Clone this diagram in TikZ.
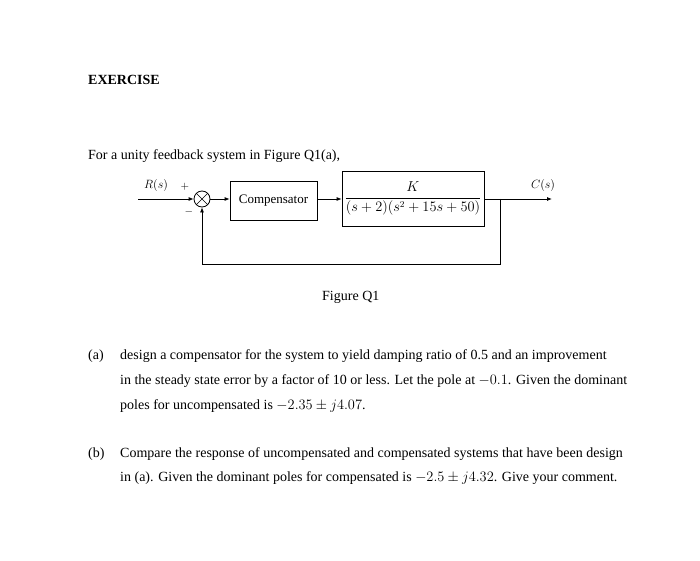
\documentclass[tikz,border=0pt]{standalone}
\usepackage{fontspec}
\setmainfont{Liberation Serif}
\usetikzlibrary{arrows.meta}
\begin{document}
\begin{tikzpicture}[x=1pt,y=-1pt,font=\fontsize{14}{16}\selectfont,
  blk/.style={draw,line width=0.8pt,minimum height=0pt,inner sep=0pt},
  txt/.style={anchor=base west,inner sep=0pt},
  sig/.style={line width=0.8pt,-{Latex[length=5pt,width=4pt]}},
  ln/.style={line width=0.8pt}]
\useasboundingbox (0,0) rectangle (700,561);
\node[txt,font=\fontsize{14}{16}\selectfont\bfseries] (ex) at (88,85) {EXERCISE};
\node[txt] (intro) at (88,160) {For a unity feedback system in Figure Q1(a),};
% diagram
\node[draw,circle,line width=0.8pt,minimum size=16pt,inner sep=0pt] (sum) at (202,199) {};
\draw[line width=0.7pt] (sum.north west)--(sum.south east) (sum.north east)--(sum.south west);
\node[blk,minimum width=87pt,minimum height=39pt] (comp) at (273.5,200.5) {\fontsize{13}{15}\selectfont Compensator};
\node[blk,minimum width=142pt,minimum height=55pt] (plant) at (413,198.5) {\fontsize{13.5}{15}\selectfont$\displaystyle\frac{K}{(s+2)(s^2+15s+50)}$};
\coordinate (in) at (138,199);
\coordinate (out) at (552,199);
\coordinate (br) at (500,199);
\coordinate (fb1) at (500,264);
\coordinate (fb2) at (202,264);
\draw[sig] (in) -- (sum.west);
\draw[sig] (sum.east) -- (comp.west |- sum.east);
\draw[sig] (comp.east |- sum.east) -- (plant.west |- sum.east);
\draw[sig] (plant.east |- br) -- (out);
\draw[ln] (br) -- (fb1) -- (fb2);
\draw[sig] (fb2) -- (sum.south);
\node[font=\fontsize{13}{15}\selectfont] (R) at (156,186) {$R(s)$};
\node[font=\fontsize{13}{15}\selectfont] (C) at (543,186) {$C(s)$};
\node[font=\fontsize{11}{12}\selectfont] (plus) at (185,187) {$+$};
\node[font=\fontsize{11}{12}\selectfont] (minus) at (189,212) {$-$};
\node[txt] (fig) at (322,300) {Figure Q1};
% questions
\node[txt] (qa) at (88,359) {(a)};
\node[txt] (a1) at (120,359) {design a compensator for the system to yield damping ratio of 0.5 and an improvement};
\node[txt] (a2) at (120,384) {in the steady state error by a factor of 10 or less. Let the pole at $-0.1$. Given the dominant};
\node[txt] (a3) at (120,409) {poles for uncompensated is $-2.35\pm j4.07$.};
\node[txt] (qb) at (88,457) {(b)};
\node[txt] (b1) at (120,457) {Compare the response of uncompensated and compensated systems that have been design};
\node[txt] (b2) at (120,481) {in (a). Given the dominant poles for compensated is $-2.5\pm j4.32$. Give your comment.};
\end{tikzpicture}
\end{document}
